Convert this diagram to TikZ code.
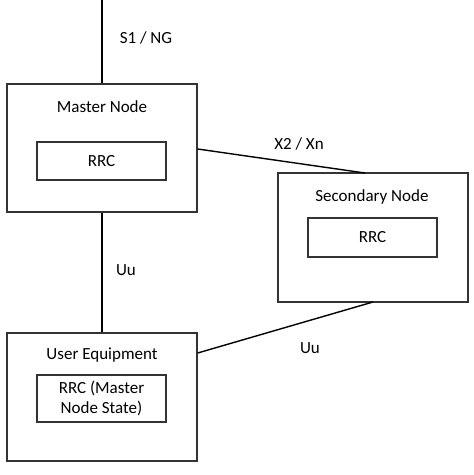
\documentclass[tikz,border=0pt]{standalone}
\usepackage{fontspec}
\setmainfont{Carlito}
\begin{document}
\begin{tikzpicture}[x=1pt,y=-1pt,
  box/.style={draw=black!80,line width=1.3pt,inner sep=0pt},
  conn/.style={draw=black,line width=1.4pt},
  lbl/.style={font=\fontsize{17}{20}\selectfont,inner sep=0pt},
]
\useasboundingbox (0,0) rectangle (474,475);
% outer boxes
\node[box,minimum width=190pt,minimum height=128pt] (mn) at (102,148) {};
\node[box,minimum width=190pt,minimum height=129pt] (sn) at (373,237.5) {};
\node[box,minimum width=190pt,minimum height=128pt] (ue) at (102,397) {};
% inner boxes
\node[box,minimum width=129pt,minimum height=38pt,lbl] (mrrc) at (101.5,161) {RRC};
\node[box,minimum width=129pt,minimum height=39pt,lbl] (srrc) at (372.5,237.5) {RRC};
\node[box,minimum width=129pt,minimum height=47pt,lbl,align=center] (urrc) at (101.5,398.5) {RRC (Master\\Node State)};
% titles
\node[lbl] (mnt) at (102,107) {Master Node};
\node[lbl] (snt) at (372,197) {Secondary Node};
\node[lbl] (uet) at (102,355) {User Equipment};
% connectors
\coordinate (top) at (102,0);
\draw[conn] (top) -- (mn.north -| top);
\draw[conn] (mn.south) -- (ue.north);
\draw[conn] (mn.east |- 0,149) -- (365,173);
\draw[conn] (ue.east |- 0,353) -- (373,302);
% labels
\node[lbl] (l1) at (146,38) {S1 / NG};
\node[lbl] (l2) at (299,144) {X2 / Xn};
\node[lbl] (l3) at (126,270) {Uu};
\node[lbl] (l4) at (310,348) {Uu};
\end{tikzpicture}
\end{document}
